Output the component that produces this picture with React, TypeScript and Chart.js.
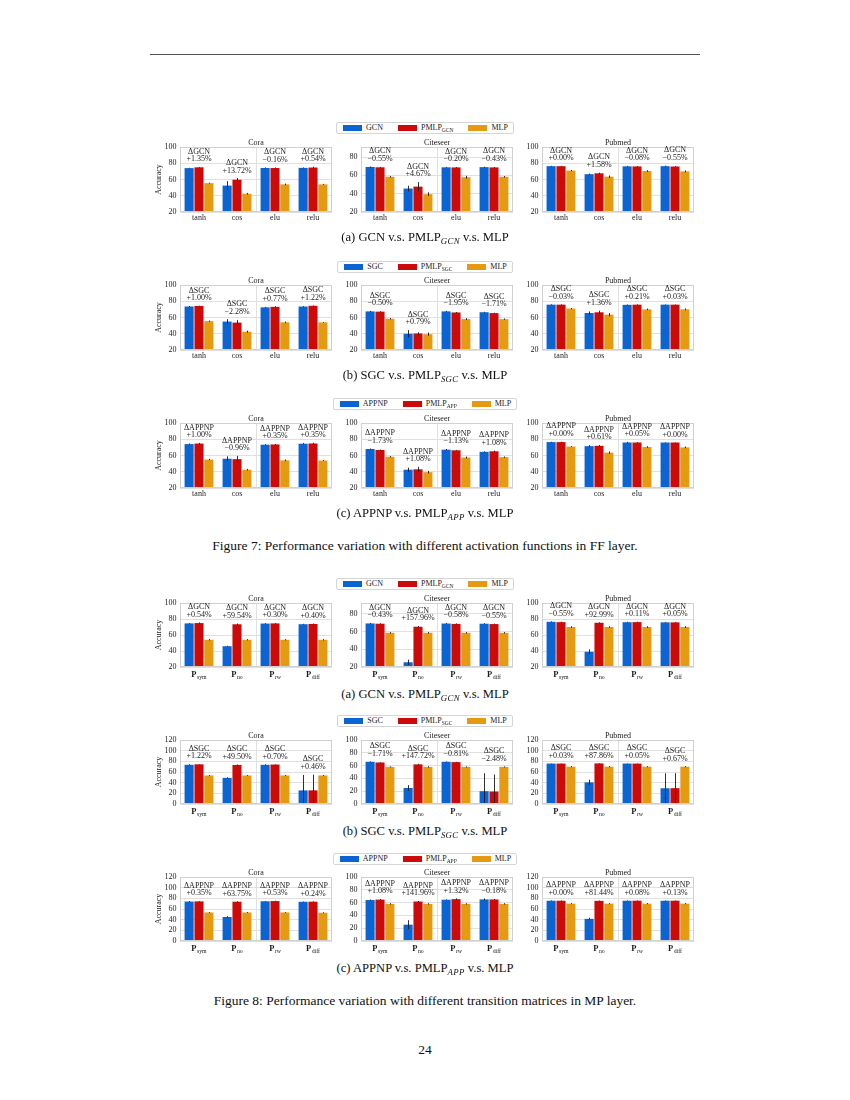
import React, { useEffect, useRef } from "react";
import { Chart, registerables } from "chart.js";
Chart.register(...registerables);

const SERIF = '"Liberation Serif", "Times New Roman", Times, serif';
const INK = "#1c1c1c";
const C_GNN = "#0a64d2";
const C_PMLP = "#cc0a0a";
const C_MLP = "#e69a12";
const GRID = "#e0e0e0";
const SPINE = "#d0d0d0";
Chart.defaults.font.family = SERIF;

// ---------- categories / tick labels ----------
const activations = ["tanh", "cos", "elu", "relu"];
const matrixBase = "P";
const matrixSubs = ["sym", "no", "rw", "diff"];
const datasetNames = ["Cora", "Citeseer", "Pubmed"];

// ---------- Figure 7(a): GCN, activation functions ----------
const ffGcnCoraGnn = [74.0, 52.5, 74.2, 74.3];
const ffGcnCoraPmlp = [75.0, 59.7, 74.1, 74.7];
const ffGcnCoraMlp = [55.5, 42.5, 54.0, 54.0];
const ffGcnCoraErrGnn = [0.4, 5.5, 0.6, 0.5];
const ffGcnCoraErrPmlp = [0.5, 2.0, 0.6, 1.0];
const ffGcnCoraErrMlp = [0.6, 1.0, 1.0, 0.6];
const ffGcnCoraDelta = ["+1.35%", "+13.72%", "\u22120.16%", "+0.54%"];

const ffGcnCiteGnn = [69.2, 45.6, 68.8, 69.0];
const ffGcnCitePmlp = [68.8, 47.7, 68.7, 68.7];
const ffGcnCiteMlp = [58.5, 39.5, 58.0, 58.5];
const ffGcnCiteErrGnn = [0.5, 3.0, 0.4, 0.5];
const ffGcnCiteErrPmlp = [0.4, 5.0, 0.5, 0.5];
const ffGcnCiteErrMlp = [0.8, 2.0, 1.5, 0.8];
const ffGcnCiteDelta = ["\u22120.55%", "+4.67%", "\u22120.20%", "\u22120.43%"];

const ffGcnPubGnn = [76.4, 66.5, 76.2, 76.4];
const ffGcnPubPmlp = [76.4, 67.6, 76.1, 76.0];
const ffGcnPubMlp = [71.0, 63.5, 70.5, 70.0];
const ffGcnPubErrGnn = [0.5, 0.8, 0.5, 0.6];
const ffGcnPubErrPmlp = [0.4, 0.8, 0.5, 0.5];
const ffGcnPubErrMlp = [0.8, 1.5, 1.0, 1.2];
const ffGcnPubDelta = ["+0.00%", "+1.58%", "\u22120.08%", "\u22120.55%"];

// ---------- Figure 7(b): SGC ----------
const ffSgcCoraGnn = [73.5, 55.0, 72.5, 73.5];
const ffSgcCoraPmlp = [74.2, 53.7, 73.1, 74.4];
const ffSgcCoraMlp = [55.5, 42.5, 54.0, 54.0];
const ffSgcCoraErrGnn = [0.6, 3.0, 0.6, 0.5];
const ffSgcCoraErrPmlp = [0.3, 3.0, 0.8, 0.4];
const ffSgcCoraErrMlp = [0.8, 1.2, 1.0, 0.5];
const ffSgcCoraDelta = ["+1.00%", "\u22122.28%", "+0.77%", "+1.22%"];

const ffSgcCiteGnn = [67.5, 40.0, 67.5, 66.5];
const ffSgcCitePmlp = [67.2, 40.3, 66.2, 65.4];
const ffSgcCiteMlp = [58.5, 39.5, 58.0, 58.0];
const ffSgcCiteErrGnn = [0.6, 4.5, 0.6, 0.5];
const ffSgcCiteErrPmlp = [0.5, 1.5, 0.6, 0.5];
const ffSgcCiteErrMlp = [0.8, 2.0, 1.2, 0.8];
const ffSgcCiteDelta = ["\u22120.50%", "+0.79%", "\u22121.95%", "\u22121.71%"];

const ffSgcPubGnn = [75.8, 65.5, 75.6, 75.8];
const ffSgcPubPmlp = [75.8, 66.4, 75.8, 75.8];
const ffSgcPubMlp = [71.0, 63.5, 70.0, 70.0];
const ffSgcPubErrGnn = [0.4, 2.0, 0.4, 0.3];
const ffSgcPubErrPmlp = [0.4, 2.0, 0.4, 0.3];
const ffSgcPubErrMlp = [0.8, 2.0, 1.0, 1.2];
const ffSgcPubDelta = ["\u22120.03%", "+1.36%", "+0.21%", "+0.03%"];

// ---------- Figure 7(c): APPNP ----------
const ffAppCoraGnn = [74.0, 56.0, 73.3, 74.5];
const ffAppCoraPmlp = [74.7, 55.5, 73.6, 74.8];
const ffAppCoraMlp = [55.0, 42.5, 54.0, 53.8];
const ffAppCoraErrGnn = [0.8, 3.0, 0.6, 0.8];
const ffAppCoraErrPmlp = [0.8, 4.0, 0.6, 0.8];
const ffAppCoraErrMlp = [0.8, 1.0, 1.0, 0.5];
const ffAppCoraDelta = ["+1.00%", "\u22120.96%", "+0.35%", "+0.35%"];

const ffAppCiteGnn = [68.0, 42.5, 67.2, 64.5];
const ffAppCitePmlp = [66.8, 43.0, 66.4, 65.2];
const ffAppCiteMlp = [58.5, 39.5, 57.5, 58.0];
const ffAppCiteErrGnn = [0.6, 2.5, 0.8, 0.6];
const ffAppCiteErrPmlp = [0.5, 3.0, 0.5, 0.8];
const ffAppCiteErrMlp = [0.8, 1.5, 1.2, 0.8];
const ffAppCiteDelta = ["\u22121.73%", "+1.08%", "\u22121.13%", "+1.08%"];

const ffAppPubGnn = [76.5, 71.5, 76.0, 76.0];
const ffAppPubPmlp = [76.5, 71.9, 76.0, 76.0];
const ffAppPubMlp = [71.0, 63.5, 70.5, 70.0];
const ffAppPubErrGnn = [0.5, 1.2, 0.8, 0.3];
const ffAppPubErrPmlp = [0.5, 1.0, 0.5, 0.3];
const ffAppPubErrMlp = [0.5, 1.5, 1.0, 1.0];
const ffAppPubDelta = ["+0.00%", "+0.61%", "+0.05%", "+0.00%"];

// ---------- Figure 8(a): GCN, transition matrices ----------
const mpGcnCoraGnn = [74.5, 46.0, 74.3, 73.5];
const mpGcnCoraPmlp = [74.9, 73.4, 74.5, 73.8];
const mpGcnCoraMlp = [54.0, 54.0, 54.0, 54.0];
const mpGcnCoraErrGnn = [0.5, 0.5, 0.5, 0.5];
const mpGcnCoraErrPmlp = [0.8, 0.8, 0.5, 0.5];
const mpGcnCoraErrMlp = [0.8, 0.8, 0.8, 0.8];
const mpGcnCoraDelta = ["+0.54%", "+59.54%", "+0.30%", "+0.40%"];

const mpGcnCiteGnn = [69.0, 25.3, 68.9, 68.7];
const mpGcnCitePmlp = [68.7, 65.3, 68.5, 68.3];
const mpGcnCiteMlp = [58.5, 58.5, 58.5, 58.5];
const mpGcnCiteErrGnn = [0.5, 3.0, 0.5, 0.5];
const mpGcnCiteErrPmlp = [0.5, 0.8, 0.5, 0.5];
const mpGcnCiteErrMlp = [0.8, 0.8, 0.8, 0.8];
const mpGcnCiteDelta = ["\u22120.43%", "+157.96%", "\u22120.58%", "\u22120.55%"];

const mpGcnPubGnn = [76.5, 39.0, 76.0, 75.8];
const mpGcnPubPmlp = [76.1, 75.3, 76.1, 75.8];
const mpGcnPubMlp = [70.0, 70.0, 70.0, 70.0];
const mpGcnPubErrGnn = [0.5, 3.0, 0.5, 0.5];
const mpGcnPubErrPmlp = [0.5, 0.5, 0.5, 0.5];
const mpGcnPubErrMlp = [1.0, 1.0, 1.0, 1.0];
const mpGcnPubDelta = ["\u22120.55%", "+92.99%", "+0.11%", "+0.05%"];

// ---------- Figure 8(b): SGC ----------
const mpSgcCoraGnn = [73.5, 49.0, 73.5, 25.5];
const mpSgcCoraPmlp = [74.4, 73.3, 74.0, 25.6];
const mpSgcCoraMlp = [53.5, 53.5, 53.5, 53.5];
const mpSgcCoraErrGnn = [0.8, 1.0, 0.8, 29.0];
const mpSgcCoraErrPmlp = [0.5, 0.8, 0.5, 29.5];
const mpSgcCoraErrMlp = [0.8, 0.8, 0.8, 0.8];
const mpSgcCoraDelta = ["+1.22%", "+49.50%", "+0.70%", "+0.46%"];

const mpSgcCiteGnn = [66.0, 25.0, 66.0, 20.0];
const mpSgcCitePmlp = [64.9, 61.9, 65.5, 19.5];
const mpSgcCiteMlp = [58.0, 58.0, 58.0, 58.0];
const mpSgcCiteErrGnn = [0.5, 4.5, 0.5, 28.0];
const mpSgcCiteErrPmlp = [0.5, 0.8, 0.5, 26.5];
const mpSgcCiteErrMlp = [0.8, 1.0, 0.8, 0.8];
const mpSgcCiteDelta = ["\u22121.71%", "+147.72%", "\u22120.81%", "\u22122.48%"];

const mpSgcPubGnn = [75.8, 40.5, 75.8, 29.5];
const mpSgcPubPmlp = [75.8, 76.1, 75.8, 29.7];
const mpSgcPubMlp = [70.0, 70.0, 70.0, 70.0];
const mpSgcPubErrGnn = [0.4, 5.0, 0.4, 28.0];
const mpSgcPubErrPmlp = [0.4, 0.5, 0.4, 28.0];
const mpSgcPubErrMlp = [1.0, 1.0, 1.0, 1.0];
const mpSgcPubDelta = ["+0.03%", "+87.86%", "+0.05%", "+0.67%"];

// ---------- Figure 8(c): APPNP ----------
const mpAppCoraGnn = [74.0, 45.0, 74.5, 73.5];
const mpAppCoraPmlp = [74.3, 73.7, 74.9, 73.7];
const mpAppCoraMlp = [53.5, 53.5, 53.5, 53.0];
const mpAppCoraErrGnn = [0.8, 1.5, 0.6, 0.5];
const mpAppCoraErrPmlp = [0.6, 0.8, 0.6, 0.6];
const mpAppCoraErrMlp = [0.8, 0.8, 0.8, 0.8];
const mpAppCoraDelta = ["+0.35%", "+63.75%", "+0.53%", "+0.24%"];

const mpAppCiteGnn = [64.0, 25.5, 64.5, 65.0];
const mpAppCitePmlp = [64.7, 61.7, 65.4, 64.9];
const mpAppCiteMlp = [58.0, 58.0, 58.0, 58.0];
const mpAppCiteErrGnn = [0.8, 7.0, 0.5, 1.5];
const mpAppCiteErrPmlp = [0.8, 0.8, 1.2, 0.8];
const mpAppCiteErrMlp = [1.0, 1.0, 1.0, 1.0];
const mpAppCiteDelta = ["+1.08%", "+141.96%", "+1.32%", "\u22120.18%"];

const mpAppPubGnn = [75.5, 41.5, 75.5, 75.5];
const mpAppPubPmlp = [75.5, 75.3, 75.6, 75.6];
const mpAppPubMlp = [70.0, 70.0, 70.0, 70.0];
const mpAppPubErrGnn = [0.5, 2.0, 0.5, 0.5];
const mpAppPubErrPmlp = [0.5, 0.5, 0.5, 0.5];
const mpAppPubErrMlp = [1.0, 1.0, 1.0, 1.0];
const mpAppPubDelta = ["+0.00%", "+81.44%", "+0.08%", "+0.13%"];

// ---------- assembly (built from the arrays above) ----------
const mk = (gnn, pmlp, mlp, eg, ep, em, delta) => ({ gnn, pmlp, mlp, errs: [eg, ep, em], delta });

const ROWS = [
  { model: "GCN", sub: "GCN", tag: "(a)", mp: false, legendTop: 122, axTop: 147, axH: 65, capY: 237,
    yr: [[20, 100], [20, 91], [20, 100]],
    panels: [
      mk(ffGcnCoraGnn, ffGcnCoraPmlp, ffGcnCoraMlp, ffGcnCoraErrGnn, ffGcnCoraErrPmlp, ffGcnCoraErrMlp, ffGcnCoraDelta),
      mk(ffGcnCiteGnn, ffGcnCitePmlp, ffGcnCiteMlp, ffGcnCiteErrGnn, ffGcnCiteErrPmlp, ffGcnCiteErrMlp, ffGcnCiteDelta),
      mk(ffGcnPubGnn, ffGcnPubPmlp, ffGcnPubMlp, ffGcnPubErrGnn, ffGcnPubErrPmlp, ffGcnPubErrMlp, ffGcnPubDelta),
    ] },
  { model: "SGC", sub: "SGC", tag: "(b)", mp: false, legendTop: 261, axTop: 285, axH: 65, capY: 375,
    yr: [[20, 100], [20, 100], [20, 100]],
    panels: [
      mk(ffSgcCoraGnn, ffSgcCoraPmlp, ffSgcCoraMlp, ffSgcCoraErrGnn, ffSgcCoraErrPmlp, ffSgcCoraErrMlp, ffSgcCoraDelta),
      mk(ffSgcCiteGnn, ffSgcCitePmlp, ffSgcCiteMlp, ffSgcCiteErrGnn, ffSgcCiteErrPmlp, ffSgcCiteErrMlp, ffSgcCiteDelta),
      mk(ffSgcPubGnn, ffSgcPubPmlp, ffSgcPubMlp, ffSgcPubErrGnn, ffSgcPubErrPmlp, ffSgcPubErrMlp, ffSgcPubDelta),
    ] },
  { model: "APPNP", sub: "APP", tag: "(c)", mp: false, legendTop: 398, axTop: 423, axH: 65, capY: 513,
    yr: [[20, 100], [20, 100], [20, 100]],
    panels: [
      mk(ffAppCoraGnn, ffAppCoraPmlp, ffAppCoraMlp, ffAppCoraErrGnn, ffAppCoraErrPmlp, ffAppCoraErrMlp, ffAppCoraDelta),
      mk(ffAppCiteGnn, ffAppCitePmlp, ffAppCiteMlp, ffAppCiteErrGnn, ffAppCiteErrPmlp, ffAppCiteErrMlp, ffAppCiteDelta),
      mk(ffAppPubGnn, ffAppPubPmlp, ffAppPubMlp, ffAppPubErrGnn, ffAppPubErrPmlp, ffAppPubErrMlp, ffAppPubDelta),
    ] },
  { model: "GCN", sub: "GCN", tag: "(a)", mp: true, legendTop: 578, axTop: 603, axH: 64, capY: 694,
    yr: [[20, 100], [20, 92], [20, 100]],
    panels: [
      mk(mpGcnCoraGnn, mpGcnCoraPmlp, mpGcnCoraMlp, mpGcnCoraErrGnn, mpGcnCoraErrPmlp, mpGcnCoraErrMlp, mpGcnCoraDelta),
      mk(mpGcnCiteGnn, mpGcnCitePmlp, mpGcnCiteMlp, mpGcnCiteErrGnn, mpGcnCiteErrPmlp, mpGcnCiteErrMlp, mpGcnCiteDelta),
      mk(mpGcnPubGnn, mpGcnPubPmlp, mpGcnPubMlp, mpGcnPubErrGnn, mpGcnPubErrPmlp, mpGcnPubErrMlp, mpGcnPubDelta),
    ] },
  { model: "SGC", sub: "SGC", tag: "(b)", mp: true, legendTop: 715, axTop: 740, axH: 64, capY: 831,
    yr: [[0, 120], [0, 100], [0, 120]],
    panels: [
      mk(mpSgcCoraGnn, mpSgcCoraPmlp, mpSgcCoraMlp, mpSgcCoraErrGnn, mpSgcCoraErrPmlp, mpSgcCoraErrMlp, mpSgcCoraDelta),
      mk(mpSgcCiteGnn, mpSgcCitePmlp, mpSgcCiteMlp, mpSgcCiteErrGnn, mpSgcCiteErrPmlp, mpSgcCiteErrMlp, mpSgcCiteDelta),
      mk(mpSgcPubGnn, mpSgcPubPmlp, mpSgcPubMlp, mpSgcPubErrGnn, mpSgcPubErrPmlp, mpSgcPubErrMlp, mpSgcPubDelta),
    ] },
  { model: "APPNP", sub: "APP", tag: "(c)", mp: true, legendTop: 853, axTop: 877, axH: 64, capY: 968,
    yr: [[0, 120], [0, 100], [0, 120]],
    panels: [
      mk(mpAppCoraGnn, mpAppCoraPmlp, mpAppCoraMlp, mpAppCoraErrGnn, mpAppCoraErrPmlp, mpAppCoraErrMlp, mpAppCoraDelta),
      mk(mpAppCiteGnn, mpAppCitePmlp, mpAppCiteMlp, mpAppCiteErrGnn, mpAppCiteErrPmlp, mpAppCiteErrMlp, mpAppCiteDelta),
      mk(mpAppPubGnn, mpAppPubPmlp, mpAppPubMlp, mpAppPubErrGnn, mpAppPubErrPmlp, mpAppPubErrMlp, mpAppPubDelta),
    ] },
];

// layout
const AX_LEFT = [180, 361, 542];
const AX_W = 152;
const PADL = 34, PADR = 4, PADT = 14, PADB = 18;

function Panel({ row, col }) {
  const ref = useRef(null);
  const W = PADL + AX_W + PADR;
  const H = PADT + row.axH + PADB;
  useEffect(() => {
    const p = row.panels[col];
    const [ymin, ymax] = row.yr[col];
    const series = [p.gnn, p.pmlp, p.mlp];
    const deco = {
      id: "deco",
      afterDatasetsDraw(chart) {
        const { ctx, chartArea: a } = chart;
        const xs = chart.scales.x;
        const ys = chart.scales.y;
        // error bars
        ctx.save();
        ctx.beginPath();
        ctx.rect(a.left, a.top, a.right - a.left, a.bottom - a.top);
        ctx.clip();
        ctx.strokeStyle = "rgba(25,25,25,0.9)";
        ctx.lineWidth = 1;
        ctx.beginPath();
        chart.data.datasets.forEach((ds, di) => {
          const meta = chart.getDatasetMeta(di);
          meta.data.forEach((el, i) => {
            const v = ds.data[i];
            const e = p.errs[di][i];
            const px = Math.round(el.x) + 0.5;
            ctx.moveTo(px, ys.getPixelForValue(v + e));
            ctx.lineTo(px, ys.getPixelForValue(v - e));
          });
        });
        ctx.stroke();
        ctx.restore();

        ctx.save();
        // frame (spines)
        ctx.strokeStyle = SPINE;
        ctx.lineWidth = 1;
        ctx.strokeRect(a.left + 0.5, a.top + 0.5, a.right - a.left - 1, a.bottom - a.top - 1);
        // subplot title
        ctx.fillStyle = INK;
        ctx.font = `8px ${SERIF}`;
        ctx.textAlign = "center";
        ctx.textBaseline = "alphabetic";
        ctx.fillText(datasetNames[col], (a.left + a.right) / 2, a.top - 2);
        // delta annotations
        for (let i = 0; i < series[0].length; i++) {
          let topV = -Infinity;
          for (let s = 0; s < 3; s++) topV = Math.max(topV, series[s][i] + p.errs[s][i]);
          const yb = ys.getPixelForValue(topV) - 5.6;
          const xc = xs.getPixelForValue(i);
          ctx.fillText("\u0394" + row.model, xc, yb - 7.6);
          ctx.fillText(p.delta[i], xc, yb);
        }
        // transition-matrix tick labels (bold P with subscript)
        if (row.mp) {
          for (let i = 0; i < matrixSubs.length; i++) {
            const xc = xs.getPixelForValue(i);
            const fb = `bold 8.5px ${SERIF}`;
            const fs = `5.8px ${SERIF}`;
            ctx.font = fb;
            const wP = ctx.measureText(matrixBase).width;
            ctx.font = fs;
            const wS = ctx.measureText(matrixSubs[i]).width;
            const x0 = xc - (wP + wS + 0.4) / 2;
            ctx.textAlign = "left";
            ctx.font = fb;
            ctx.fillText(matrixBase, x0, a.bottom + 10);
            ctx.font = fs;
            ctx.fillText(matrixSubs[i], x0 + wP + 0.4, a.bottom + 12.3);
          }
        }
        // y axis label
        if (col === 0) {
          ctx.translate(a.left - 21, (a.top + a.bottom) / 2);
          ctx.rotate(-Math.PI / 2);
          ctx.textAlign = "center";
          ctx.textBaseline = "middle";
          ctx.font = `8px ${SERIF}`;
          ctx.fillText("Accuracy", 0, 0);
        }
        ctx.restore();
      },
    };
    const chart = new Chart(ref.current, {
      type: "bar",
      data: {
        labels: row.mp ? matrixSubs.map((s) => matrixBase + s) : activations,
        datasets: [
          { label: row.model, data: p.gnn, backgroundColor: C_GNN },
          { label: "PMLP", data: p.pmlp, backgroundColor: C_PMLP },
          { label: "MLP", data: p.mlp, backgroundColor: C_MLP },
        ],
      },
      options: {
        responsive: false,
        animation: false,
        events: [],
        layout: { padding: { left: 0, right: PADR, top: PADT, bottom: 0 } },
        datasets: { bar: { categoryPercentage: 0.78, barPercentage: 0.92 } },
        plugins: { legend: { display: false }, tooltip: { enabled: false }, title: { display: false } },
        scales: {
          x: {
            grid: {
              offset: true,
              drawTicks: false,
              color: (c) => (c.index === 2 ? GRID : "rgba(0,0,0,0)"),
            },
            border: { display: false },
            ticks: {
              display: !row.mp,
              padding: 1.5,
              autoSkip: false,
              maxRotation: 0,
              color: INK,
              font: { family: SERIF, size: 8 },
            },
            afterFit: (s) => { s.height = PADB; },
          },
          y: {
            min: ymin,
            max: ymax,
            grid: { color: GRID, drawTicks: false },
            border: { display: false },
            ticks: {
              stepSize: 20,
              includeBounds: false,
              autoSkip: false,
              padding: 3.5,
              color: INK,
              font: { family: SERIF, size: 8 },
            },
            afterFit: (s) => { s.width = PADL; },
          },
        },
      },
      plugins: [deco],
    });
    return () => chart.destroy();
  }, []);
  return (
    <canvas
      ref={ref}
      width={W}
      height={H}
      style={{ position: "absolute", left: AX_LEFT[col] - PADL, top: row.axTop - PADT, width: W, height: H }}
    />
  );
}

function Legend({ top, model, sub }) {
  const items = [
    { color: C_GNN, label: <span>{model}</span> },
    {
      color: C_PMLP,
      label: (
        <span>
          PMLP<span style={{ fontSize: 5.5, position: "relative", top: 1.8 }}>{sub}</span>
        </span>
      ),
    },
    { color: C_MLP, label: <span>MLP</span> },
  ];
  return (
    <div style={{ position: "absolute", left: 0, top, width: 850, display: "flex", justifyContent: "center" }}>
      <div
        style={{
          display: "flex",
          alignItems: "center",
          boxSizing: "border-box",
          height: 12,
          padding: "0 5px 0 6px",
          border: "1px solid #d6d6d6",
          borderRadius: 2,
          fontFamily: SERIF,
          fontSize: 8,
          lineHeight: "10px",
          color: INK,
          whiteSpace: "nowrap",
          background: "#fff",
        }}
      >
        {items.map((it, k) => (
          <div key={k} style={{ display: "flex", alignItems: "center", marginRight: k < 2 ? 15 : 0 }}>
            <span style={{ display: "inline-block", width: 19, height: 5.5, background: it.color, marginRight: 4 }} />
            {it.label}
          </div>
        ))}
      </div>
    </div>
  );
}

function SubCaption({ y, tag, model, sub }) {
  return (
    <div
      style={{
        position: "absolute", left: 0, width: 850, top: y - 8, height: 16, lineHeight: "16px",
        textAlign: "center", fontFamily: SERIF, fontSize: 12.6, color: "#111", whiteSpace: "nowrap",
      }}
    >
      {tag} {model} v.s. PMLP
      <span style={{ fontStyle: "italic", fontSize: 8.8, position: "relative", top: 2.5, letterSpacing: 0.3 }}>{sub}</span>
      {" "}v.s. MLP
    </div>
  );
}

function Line({ y, text, size }) {
  return (
    <div
      style={{
        position: "absolute", left: 0, width: 850, top: y - 9, height: 18, lineHeight: "18px",
        textAlign: "center", fontFamily: SERIF, fontSize: size, color: "#111", whiteSpace: "nowrap",
      }}
    >
      {text}
    </div>
  );
}

export default function App() {
  return (
    <div style={{ position: "absolute", left: 0, top: 0, width: 850, height: 1100, background: "#fff", overflow: "hidden" }}>
      <div style={{ position: "absolute", left: 150, top: 54, width: 550, height: 1, background: "#555" }} />
      {ROWS.map((row, r) => (
        <React.Fragment key={r}>
          <Legend top={row.legendTop} model={row.model} sub={row.sub} />
          {[0, 1, 2].map((c) => (
            <Panel key={c} row={row} col={c} />
          ))}
          <SubCaption y={row.capY} tag={row.tag} model={row.model} sub={row.sub} />
        </React.Fragment>
      ))}
      <Line y={546} size={13.5} text="Figure 7: Performance variation with different activation functions in FF layer." />
      <Line y={1001} size={13.5} text="Figure 8: Performance variation with different transition matrices in MP layer." />
      <Line y={1050} size={13.5} text="24" />
    </div>
  );
}
